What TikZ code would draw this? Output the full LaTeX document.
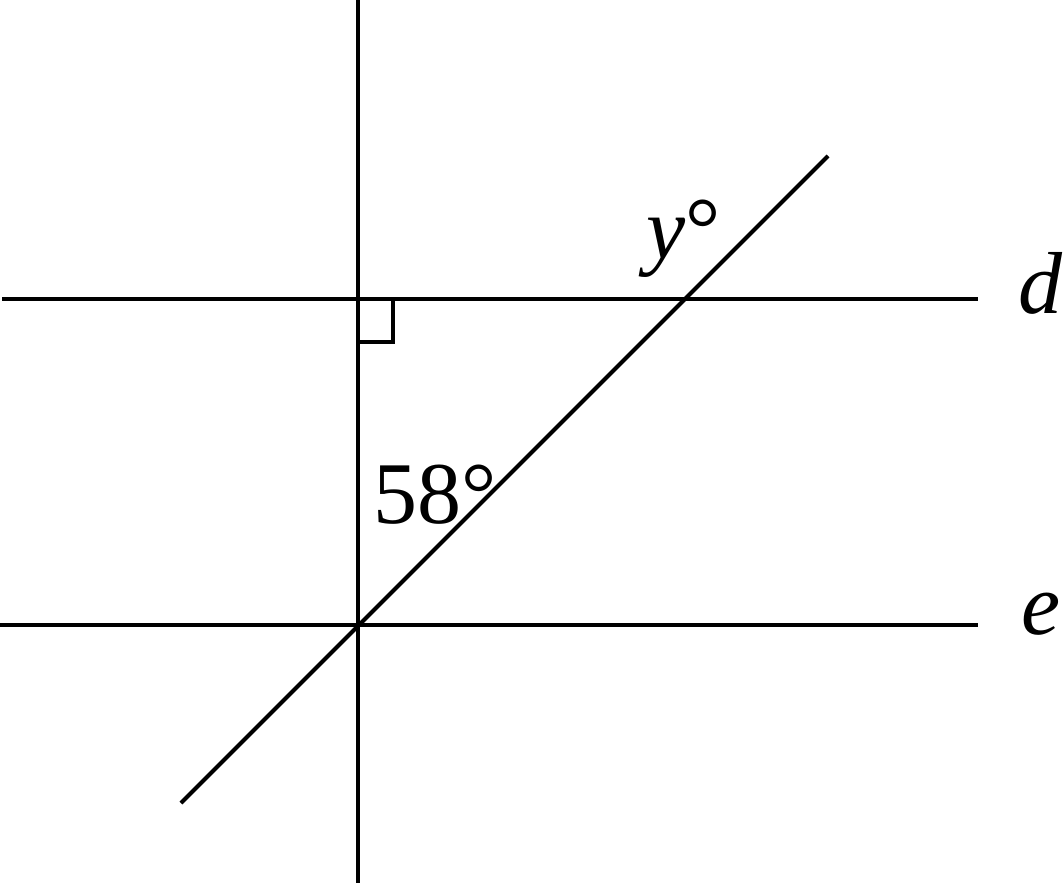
\documentclass[tikz,border=0pt]{standalone}
\usepackage{fontspec}
\setmainfont{Liberation Serif}
\begin{document}
\begin{tikzpicture}[x=1pt,y=-1pt,
  ln/.style={line width=4pt,black},
  lbl/.style={inner sep=0pt,font=\fontsize{88}{92}\selectfont}]
\useasboundingbox (0,0) rectangle (1064,884);
% points
\coordinate (vtop) at (358,0);
\coordinate (vbot) at (358,883);
\coordinate (dl) at (2,299);
\coordinate (dr) at (978,299);
\coordinate (el) at (0,625);
\coordinate (er) at (978,625);
\coordinate (tl) at (181,803);
\coordinate (tr) at (828,156);
\coordinate (ra1) at (358,342);
\coordinate (ra2) at (393,342);
\coordinate (ra3) at (393,299);
% lines
\draw[ln] (vtop) -- (vbot);
\draw[ln] (dl) -- (dr);
\draw[ln] (el) -- (er);
\draw[ln] (tl) -- (tr);
\draw[line width=3.4pt] (ra1) -- (ra2) -- (ra3);
% labels
\node[lbl,anchor=base west] (d) at (1018,313) {\itshape d};
\node[lbl,anchor=base west] (e) at (1021,634) {\itshape e};
\node[lbl,anchor=base west] (y) at (646,258) {\itshape y\upshape°};
\node[lbl,anchor=base west] (a) at (373,523) {58°};
\end{tikzpicture}
\end{document}
